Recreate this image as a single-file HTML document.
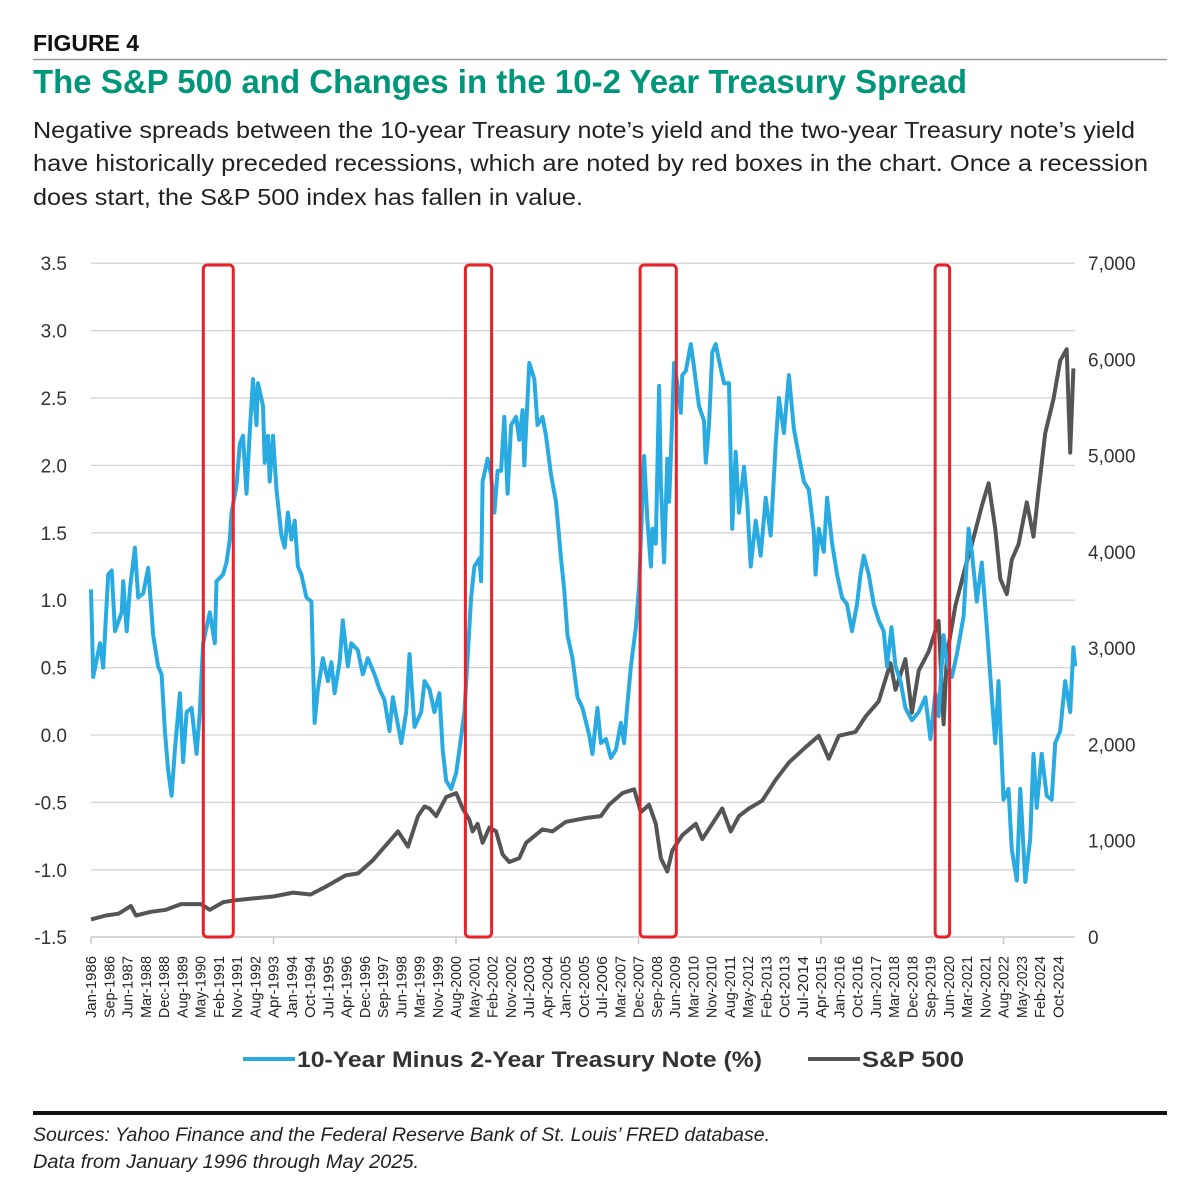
<!DOCTYPE html>
<html><head><meta charset="utf-8"><style>
html,body{margin:0;padding:0;background:#fff}
svg{display:block}
text{font-family:"Liberation Sans",sans-serif}
</style></head><body>
<svg id="chart" width="1200" height="1200" viewBox="0 0 1200 1200" xmlns="http://www.w3.org/2000/svg">
<text x="33" y="51" font-size="23" font-weight="bold" fill="#111">FIGURE 4</text>
<line x1="33" y1="59.5" x2="1167" y2="59.5" stroke="#999" stroke-width="1.5"/>
<text x="33" y="93" font-size="33" font-weight="bold" fill="#00967a" textLength="934" lengthAdjust="spacingAndGlyphs">The S&amp;P 500 and Changes in the 10-2 Year Treasury Spread</text>
<g font-size="23" fill="#222">
<text x="33" y="138" textLength="1102" lengthAdjust="spacingAndGlyphs">Negative spreads between the 10-year Treasury note’s yield and the two-year Treasury note’s yield</text>
<text x="33" y="171" textLength="1115" lengthAdjust="spacingAndGlyphs">have historically preceded recessions, which are noted by red boxes in the chart. Once a recession</text>
<text x="33" y="205" textLength="550" lengthAdjust="spacingAndGlyphs">does start, the S&amp;P 500 index has fallen in value.</text>
</g>
<g id="grid"></g>
<g id="axes"></g>
<g id="series"></g>
<g id="boxes"></g>
<g>
<line x1="243" y1="1059" x2="295" y2="1059" stroke="#29abe2" stroke-width="4"/>
<text x="297" y="1067" font-size="22" font-weight="bold" fill="#333" textLength="465" lengthAdjust="spacingAndGlyphs">10-Year Minus 2-Year Treasury Note (%)</text>
<line x1="808" y1="1059" x2="860" y2="1059" stroke="#555" stroke-width="4"/>
<text x="862" y="1067" font-size="22" font-weight="bold" fill="#333" textLength="102" lengthAdjust="spacingAndGlyphs">S&amp;P 500</text>
</g>
<line x1="33" y1="1113" x2="1167" y2="1113" stroke="#111" stroke-width="4"/>
<g font-size="19" font-style="italic" fill="#222">
<text x="33" y="1141" textLength="737" lengthAdjust="spacingAndGlyphs">Sources: Yahoo Finance and the Federal Reserve Bank of St. Louis’ FRED database.</text>
<text x="33" y="1168" textLength="386" lengthAdjust="spacingAndGlyphs">Data from January 1996 through May 2025.</text>
</g>
</svg>
<script>
const leftTicks=[3.5,3.0,2.5,2.0,1.5,1.0,0.5,0.0,-0.5,-1.0,-1.5];
const rightTicks=[7000,6000,5000,4000,3000,2000,1000,0];
const xTickLabels=["Jan-1986","Sep-1986","Jun-1987","Mar-1988","Dec-1988","Aug-1989","May-1990","Feb-1991","Nov-1991","Aug-1992","Apr-1993","Jan-1994","Oct-1994","Jul-1995","Apr-1996","Dec-1996","Sep-1997","Jun-1998","Mar-1999","Nov-1999","Aug-2000","May-2001","Feb-2002","Nov-2002","Jul-2003","Apr-2004","Jan-2005","Oct-2005","Jul-2006","Mar-2007","Dec-2007","Sep-2008","Jun-2009","Mar-2010","Nov-2010","Aug-2011","May-2012","Feb-2013","Oct-2013","Jul-2014","Apr-2015","Jan-2016","Oct-2016","Jun-2017","Mar-2018","Dec-2018","Sep-2019","Jun-2020","Mar-2021","Nov-2021","Aug-2022","May-2023","Feb-2024","Oct-2024"];
const spreadDates=[1986.0,1986.09,1986.36,1986.49,1986.69,1986.83,1986.96,1987.23,1987.29,1987.43,1987.56,1987.76,1987.89,1988.09,1988.29,1988.49,1988.69,1988.83,1988.96,1989.09,1989.23,1989.36,1989.56,1989.69,1989.83,1990.03,1990.23,1990.36,1990.49,1990.76,1990.96,1991.03,1991.29,1991.43,1991.56,1991.63,1991.83,1991.96,1992.09,1992.23,1992.36,1992.49,1992.63,1992.69,1992.89,1992.96,1993.09,1993.16,1993.29,1993.43,1993.63,1993.76,1993.89,1994.03,1994.16,1994.29,1994.43,1994.63,1994.83,1994.96,1995.09,1995.29,1995.49,1995.63,1995.76,1995.96,1996.09,1996.29,1996.43,1996.69,1996.89,1997.09,1997.36,1997.56,1997.76,1997.96,1998.09,1998.43,1998.63,1998.76,1998.96,1999.23,1999.36,1999.56,1999.76,1999.96,2000.09,2000.23,2000.43,2000.63,2000.76,2000.96,2001.09,2001.23,2001.36,2001.56,2001.63,2001.69,2001.89,2002.03,2002.16,2002.29,2002.43,2002.56,2002.69,2002.83,2003.03,2003.16,2003.29,2003.36,2003.56,2003.76,2003.89,2004.09,2004.23,2004.43,2004.63,2004.83,2004.96,2005.09,2005.29,2005.49,2005.69,2005.96,2006.09,2006.29,2006.43,2006.63,2006.83,2007.03,2007.23,2007.36,2007.49,2007.63,2007.83,2007.96,2008.16,2008.29,2008.43,2008.49,2008.63,2008.76,2008.83,2008.96,2009.09,2009.16,2009.23,2009.36,2009.49,2009.63,2009.69,2009.83,2010.03,2010.16,2010.36,2010.56,2010.63,2010.76,2010.89,2011.03,2011.16,2011.36,2011.56,2011.69,2011.83,2011.96,2012.16,2012.29,2012.43,2012.63,2012.83,2013.03,2013.23,2013.43,2013.56,2013.76,2013.96,2014.16,2014.36,2014.56,2014.76,2014.96,2015.03,2015.16,2015.36,2015.49,2015.69,2015.89,2016.09,2016.29,2016.49,2016.69,2016.83,2016.96,2017.16,2017.36,2017.56,2017.76,2017.89,2018.07,2018.23,2018.43,2018.63,2018.89,2019.16,2019.43,2019.63,2019.83,2019.96,2020.16,2020.29,2020.49,2020.69,2020.96,2021.16,2021.29,2021.49,2021.69,2021.89,2022.09,2022.23,2022.36,2022.56,2022.76,2022.89,2023.09,2023.23,2023.43,2023.63,2023.76,2023.89,2024.09,2024.29,2024.49,2024.63,2024.83,2025.03,2025.23,2025.36,2025.43];
const spreadValues=[1.08,0.43,0.68,0.5,1.19,1.22,0.77,0.91,1.14,0.77,1.08,1.39,1.02,1.05,1.24,0.74,0.51,0.45,0.03,-0.26,-0.45,-0.11,0.31,-0.2,0.17,0.2,-0.14,0.17,0.68,0.91,0.68,1.14,1.19,1.28,1.45,1.65,1.85,2.16,2.22,1.79,2.24,2.64,2.3,2.61,2.44,2.02,2.22,1.88,2.22,1.82,1.48,1.39,1.65,1.45,1.59,1.25,1.19,1.02,0.99,0.09,0.34,0.57,0.4,0.54,0.31,0.54,0.85,0.51,0.68,0.63,0.45,0.57,0.45,0.34,0.26,0.03,0.28,-0.06,0.17,0.6,0.06,0.17,0.4,0.34,0.17,0.31,-0.11,-0.34,-0.4,-0.28,-0.11,0.17,0.57,1.02,1.25,1.31,1.14,1.88,2.05,1.93,1.65,1.96,1.96,2.36,1.79,2.3,2.36,2.19,2.41,2.0,2.76,2.64,2.3,2.36,2.22,1.93,1.73,1.31,1.08,0.74,0.57,0.28,0.2,0.0,-0.14,0.2,-0.06,-0.03,-0.17,-0.11,0.09,-0.06,0.23,0.51,0.8,1.11,2.07,1.59,1.25,1.53,1.42,2.59,1.88,1.28,2.05,1.73,2.05,2.76,2.61,2.39,2.67,2.7,2.9,2.73,2.44,2.33,2.02,2.3,2.84,2.9,2.78,2.61,2.61,1.53,2.1,1.65,1.99,1.73,1.25,1.59,1.33,1.76,1.48,2.16,2.5,2.24,2.67,2.27,2.07,1.88,1.82,1.51,1.19,1.53,1.36,1.76,1.42,1.19,1.02,0.97,0.77,0.97,1.19,1.33,1.19,0.97,0.85,0.77,0.51,0.8,0.51,0.4,0.2,0.11,0.17,0.28,-0.03,0.31,0.14,0.74,0.54,0.43,0.6,0.88,1.53,1.36,0.99,1.28,0.8,0.28,-0.06,0.4,-0.48,-0.4,-0.85,-1.08,-0.4,-1.09,-0.77,-0.14,-0.54,-0.14,-0.45,-0.48,-0.06,0.03,0.4,0.17,0.65,0.51];
const spDates=[1986.0,1986.6,1987.1,1987.6,1987.8,1988.4,1989.0,1989.6,1990.4,1990.76,1991.3,1991.8,1992.5,1993.3,1994.1,1994.8,1995.4,1996.2,1996.7,1997.3,1997.7,1998.3,1998.7,1999.1,1999.36,1999.56,1999.83,2000.23,2000.63,2000.89,2001.16,2001.29,2001.49,2001.69,2001.96,2002.23,2002.49,2002.76,2003.16,2003.43,2004.09,2004.49,2005.03,2005.83,2006.43,2006.76,2007.29,2007.76,2008.03,2008.36,2008.63,2008.83,2009.09,2009.29,2009.69,2010.23,2010.49,2010.89,2011.29,2011.63,2011.96,2012.36,2012.89,2013.43,2013.96,2014.63,2015.16,2015.56,2015.96,2016.63,2017.03,2017.56,2018.03,2018.23,2018.63,2018.89,2019.16,2019.56,2019.96,2020.16,2020.29,2020.63,2021.03,2021.29,2021.69,2021.96,2022.23,2022.43,2022.69,2022.89,2023.16,2023.49,2023.76,2023.96,2024.23,2024.56,2024.83,2025.09,2025.23,2025.36];
const spValues=[183,223,242,322,223,262,282,342,342,282,362,382,401,421,461,441,521,640,660,799,918,1097,938,1256,1355,1335,1256,1454,1494,1335,1216,1097,1176,978,1137,1097,858,779,819,978,1117,1097,1196,1236,1256,1375,1494,1534,1296,1375,1176,819,680,898,1057,1176,1017,1176,1335,1097,1256,1335,1415,1633,1812,1971,2090,1852,2090,2130,2289,2448,2845,2567,2885,2329,2766,2965,3283,2209,2925,3442,3839,4077,4475,4713,4236,3720,3561,3918,4077,4514,4157,4634,5230,5587,5985,6104,5031,5905];
const boxStarts=[1990.5,2001.0,2008.0,2019.82];
const boxEnds=[1991.7,2002.05,2009.45,2020.4];

const NS="http://www.w3.org/2000/svg";
const X0=91,PXY=24.96;
function xT(y){return X0+(y-1986)*PXY;}
function yL(v){return 735-v*134.8;}
function yR(v){return 937-v*0.09629;}
function mk(tag,parent,attrs){const e=document.createElementNS(NS,tag);for(const k in attrs)e.setAttribute(k,attrs[k]);parent.appendChild(e);return e;}
const grid=document.getElementById('grid'),axes=document.getElementById('axes'),series=document.getElementById('series'),boxes=document.getElementById('boxes');
leftTicks.forEach(v=>{
  if(v>-1.5){const g=mk('line',grid,{x1:91,x2:1075,y1:yL(v),y2:yL(v),stroke:'#d4d4d4','stroke-width':1.3});
  
  }
  const t=mk('text',axes,{x:67,y:yL(v)+7,'text-anchor':'end','font-size':19,fill:'#333'});
  t.textContent=v.toFixed(1);
  
  
});
rightTicks.forEach(v=>{
  const t=mk('text',axes,{x:1088,y:yR(v)+7,'font-size':19,fill:'#333'});
  t.textContent=v.toLocaleString('en-US');
  
  
});
const ax=mk('line',axes,{x1:91,x2:1075,y1:937,y2:937,stroke:'#c8c8c8','stroke-width':1.5});


xTickLabels.forEach((s,i)=>{
  const x=91+i*18.25;
  if(i%10===0){const tk=mk('line',axes,{x1:x,x2:x,y1:937,y2:944,stroke:'#c8c8c8','stroke-width':1.5});
  
  }
  const t=mk('text',axes,{x:0,y:0,transform:`translate(${x+5},956) rotate(-90)`,'text-anchor':'end','font-size':15,fill:'#222',textLength:62,lengthAdjust:'spacingAndGlyphs'});
  t.textContent=s;
  
  
});
function path(dates,vals,fy){return dates.map((d,i)=>(i?'L':'M')+xT(d).toFixed(1)+','+fy(vals[i]).toFixed(1)).join('');}
const sp=mk('path',series,{d:path(spDates,spValues,yR),fill:'none',stroke:'#555','stroke-width':4,'stroke-linejoin':'round'});


const spr=mk('path',series,{d:path(spreadDates,spreadValues,yL),fill:'none',stroke:'#29abe2','stroke-width':4,'stroke-linejoin':'round'});


boxStarts.forEach((b,i)=>{
  const x1=xT(b),x2=xT(boxEnds[i]);
  const r=mk('rect',boxes,{x:x1,y:265,width:x2-x1,height:672,rx:4,fill:'none',stroke:'#e8222a','stroke-width':3});
  
  
});
</script>
</body></html>
